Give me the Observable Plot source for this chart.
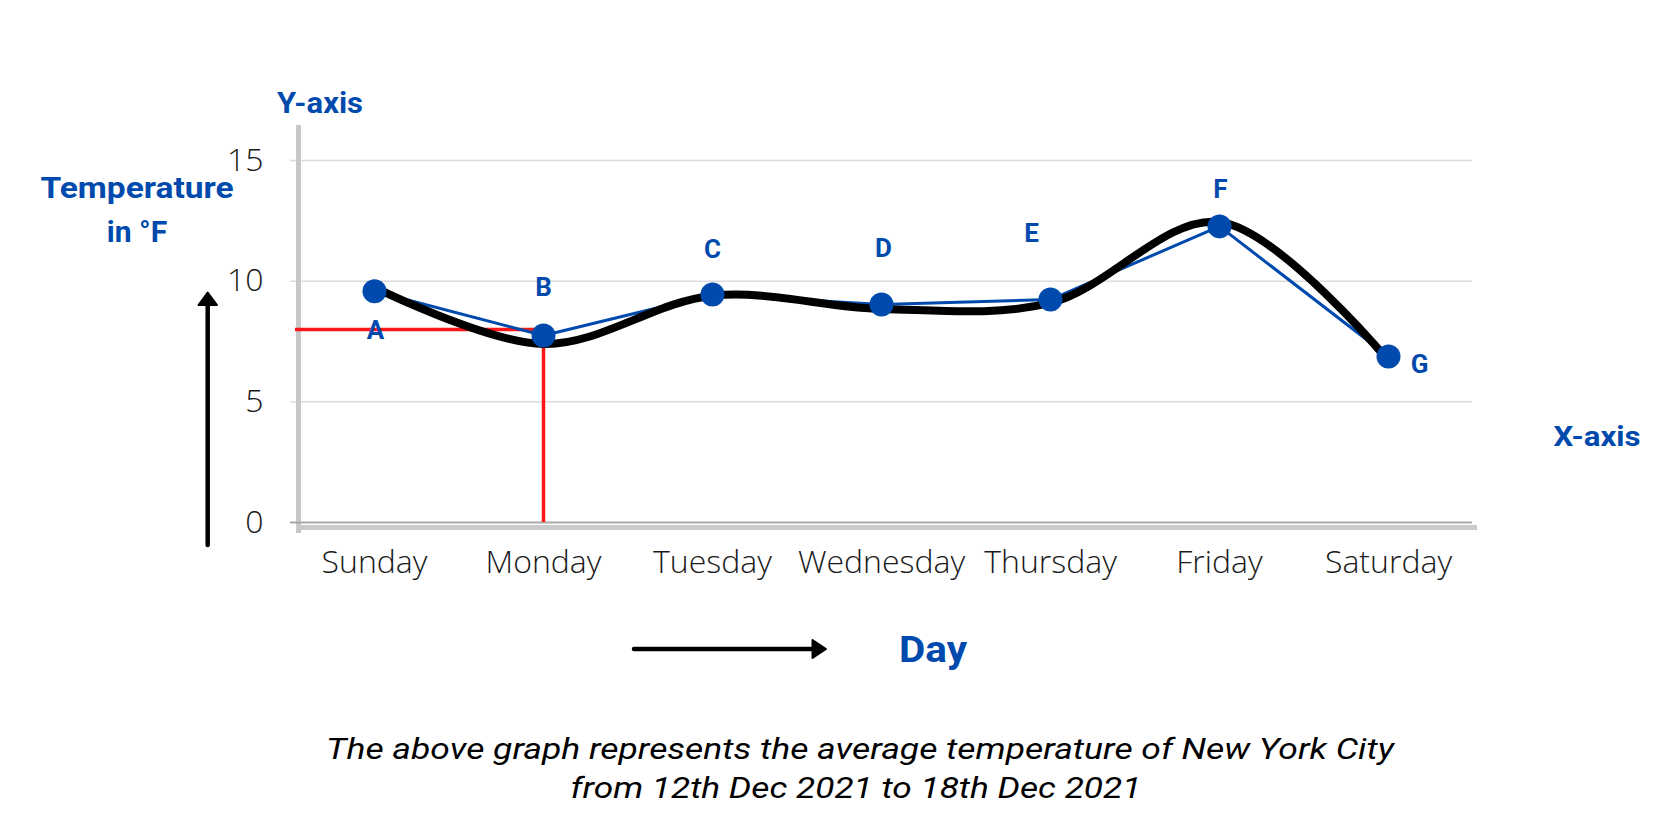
<!DOCTYPE html>
<html>
<head>
<meta charset="utf-8">
<script src="https://cdn.jsdelivr.net/npm/d3@7"></script>
<script src="https://cdn.jsdelivr.net/npm/@observablehq/plot@0.6"></script>
<style>
  html, body { margin: 0; padding: 0; background: #fff; }
  #wrap { position: relative; width: 1680px; height: 840px; background: #fff; overflow: hidden; }
  #chart { position: absolute; left: 0; top: 0; }
  #overlay { position: absolute; left: 0; top: 0; pointer-events: none; }
</style>
</head>
<body>
<div id="wrap">
  <div id="chart"></div>
  <svg id="overlay" width="1680" height="840" xmlns="http://www.w3.org/2000/svg"></svg>
</div>
<script>
// ---- data ----
const days = ["Sunday", "Monday", "Tuesday", "Wednesday", "Thursday", "Friday", "Saturday"];
const pointTemps = [9.58, 7.75, 9.45, 9.03, 9.24, 12.27, 6.88];   // blue points / straight line
const curveTemps = [9.74, 7.4, 9.4, 8.85, 9.1, 12.45, 6.7];       // black smooth curve
const pointLabels = ["A", "B", "C", "D", "E", "F", "G"];
const yTicks = [0, 5, 10, 15];
const refDay = "Monday";
const refTemp = 8;

// label offsets (style, pixels)
const labelOffsets = [[1, 39], [0, -48], [0, -45], [2, -56], [-19, -66], [1, -37], [31, 8]];

const rows = days.map((d, i) => ({day: d, point: pointTemps[i], curve: curveTemps[i], label: pointLabels[i]}));
const ref = [{day: refDay, temp: refTemp}];

const BLUE = "#004aad";
const RED = "#ff1616";

const chart = Plot.plot({
  width: 1680,
  height: 600,
  marginLeft: 298,
  marginRight: 203,
  marginTop: 127,
  marginBottom: 70,
  style: {background: "transparent", fontFamily: "'Open Sans', sans-serif", color: "#1a1a1a"},
  x: {type: "point", domain: days, range: [372, 1389], padding: 0, label: null},
  y: {domain: [0, 15], range: [522, 160], label: null},
  marks: [
    Plot.ruleY([5, 10, 15], {stroke: "#dcdcdc", strokeWidth: 1.5, insetLeft: -8, insetRight: 5}),
    Plot.frame({anchor: "left", stroke: "#c8c8c8", strokeWidth: 5, strokeOpacity: 1}),
    Plot.ruleY([0], {stroke: "#cacaca", strokeWidth: 5, dy: 5, insetLeft: -2}),
    Plot.ruleY([0], {stroke: "#a8a8a8", strokeWidth: 2, insetLeft: -8, insetRight: 5}),
    Plot.axisY({ticks: yTicks, tickSize: 0, tickPadding: 35, fontSize: 32, fontWeight: 300, label: null}),
    Plot.axisX({tickSize: 0, tickPadding: 20, fontSize: 32, fontWeight: 300, label: null}),
    Plot.ruleY(ref, {y: "temp", x1: null, x2: "day", stroke: RED, strokeWidth: 3.5, insetLeft: -3}),
    Plot.ruleX(ref, {x: "day", y1: 0, y2: "temp", stroke: RED, strokeWidth: 3.5}),
    Plot.line(rows, {x: "day", y: "point", stroke: BLUE, strokeWidth: 3}),
    Plot.line(rows, {x: "day", y: "curve", curve: "catmull-rom", stroke: "#000", strokeWidth: 8, strokeLinecap: "butt"}),
    Plot.dot(rows, {x: "day", y: "point", r: 12, fill: BLUE}),
    ...rows.map((r, i) => Plot.text([r], {
      x: "day", y: "point", text: "label",
      dx: labelOffsets[i][0], dy: labelOffsets[i][1],
      fill: BLUE, fontSize: 26, fontWeight: 700, fontFamily: "Roboto, sans-serif"
    }))
  ]
});
document.getElementById("chart").appendChild(chart);

// ---- annotations (titles, arrows, caption) ----
const ov = d3.select("#overlay");
function txt(s, x, y, opts) {
  const t = ov.append("text").attr("x", x).attr("y", y).text(s)
    .attr("font-family", opts.family || "Roboto, sans-serif")
    .attr("font-size", opts.size)
    .attr("font-weight", opts.weight || 400)
    .attr("font-style", opts.style || "normal")
    .attr("fill", opts.fill || BLUE)
    .attr("text-anchor", opts.anchor || "middle");
  if (opts.len) t.attr("textLength", opts.len).attr("lengthAdjust", "spacingAndGlyphs");
  return t;
}
txt("Y-axis", 320, 113, {size: 30, weight: 700, len: 86});
txt("Temperature", 137, 198, {size: 30, weight: 700, len: 193});
txt("in °F", 137, 242, {size: 30, weight: 700});
txt("X-axis", 1597, 446, {size: 27, weight: 700, len: 87});
txt("Day", 933, 662, {size: 37, weight: 700, len: 68});
txt("The above graph represents the average temperature of New York City", 860, 759,
    {size: 30, style: "italic", fill: "#000", family: "Roboto, sans-serif", len: 1068});
txt("from 12th Dec 2021 to 18th Dec 2021", 856, 798,
    {size: 30, style: "italic", fill: "#000", family: "Roboto, sans-serif", len: 571});

// arrows
ov.append("line").attr("x1", 207.7).attr("y1", 545).attr("x2", 207.7).attr("y2", 302)
  .attr("stroke", "#000").attr("stroke-width", 4.5).attr("stroke-linecap", "round");
ov.append("polygon").attr("points", "198.5,305 217,305 207.7,292.5")
  .attr("fill", "#000").attr("stroke", "#000").attr("stroke-width", 2).attr("stroke-linejoin", "round");
ov.append("line").attr("x1", 634).attr("y1", 649).attr("x2", 815).attr("y2", 649)
  .attr("stroke", "#000").attr("stroke-width", 4.5).attr("stroke-linecap", "round");
ov.append("polygon").attr("points", "812.5,640 812.5,658 826,649")
  .attr("fill", "#000").attr("stroke", "#000").attr("stroke-width", 2).attr("stroke-linejoin", "round");
</script>
</body>
</html>
